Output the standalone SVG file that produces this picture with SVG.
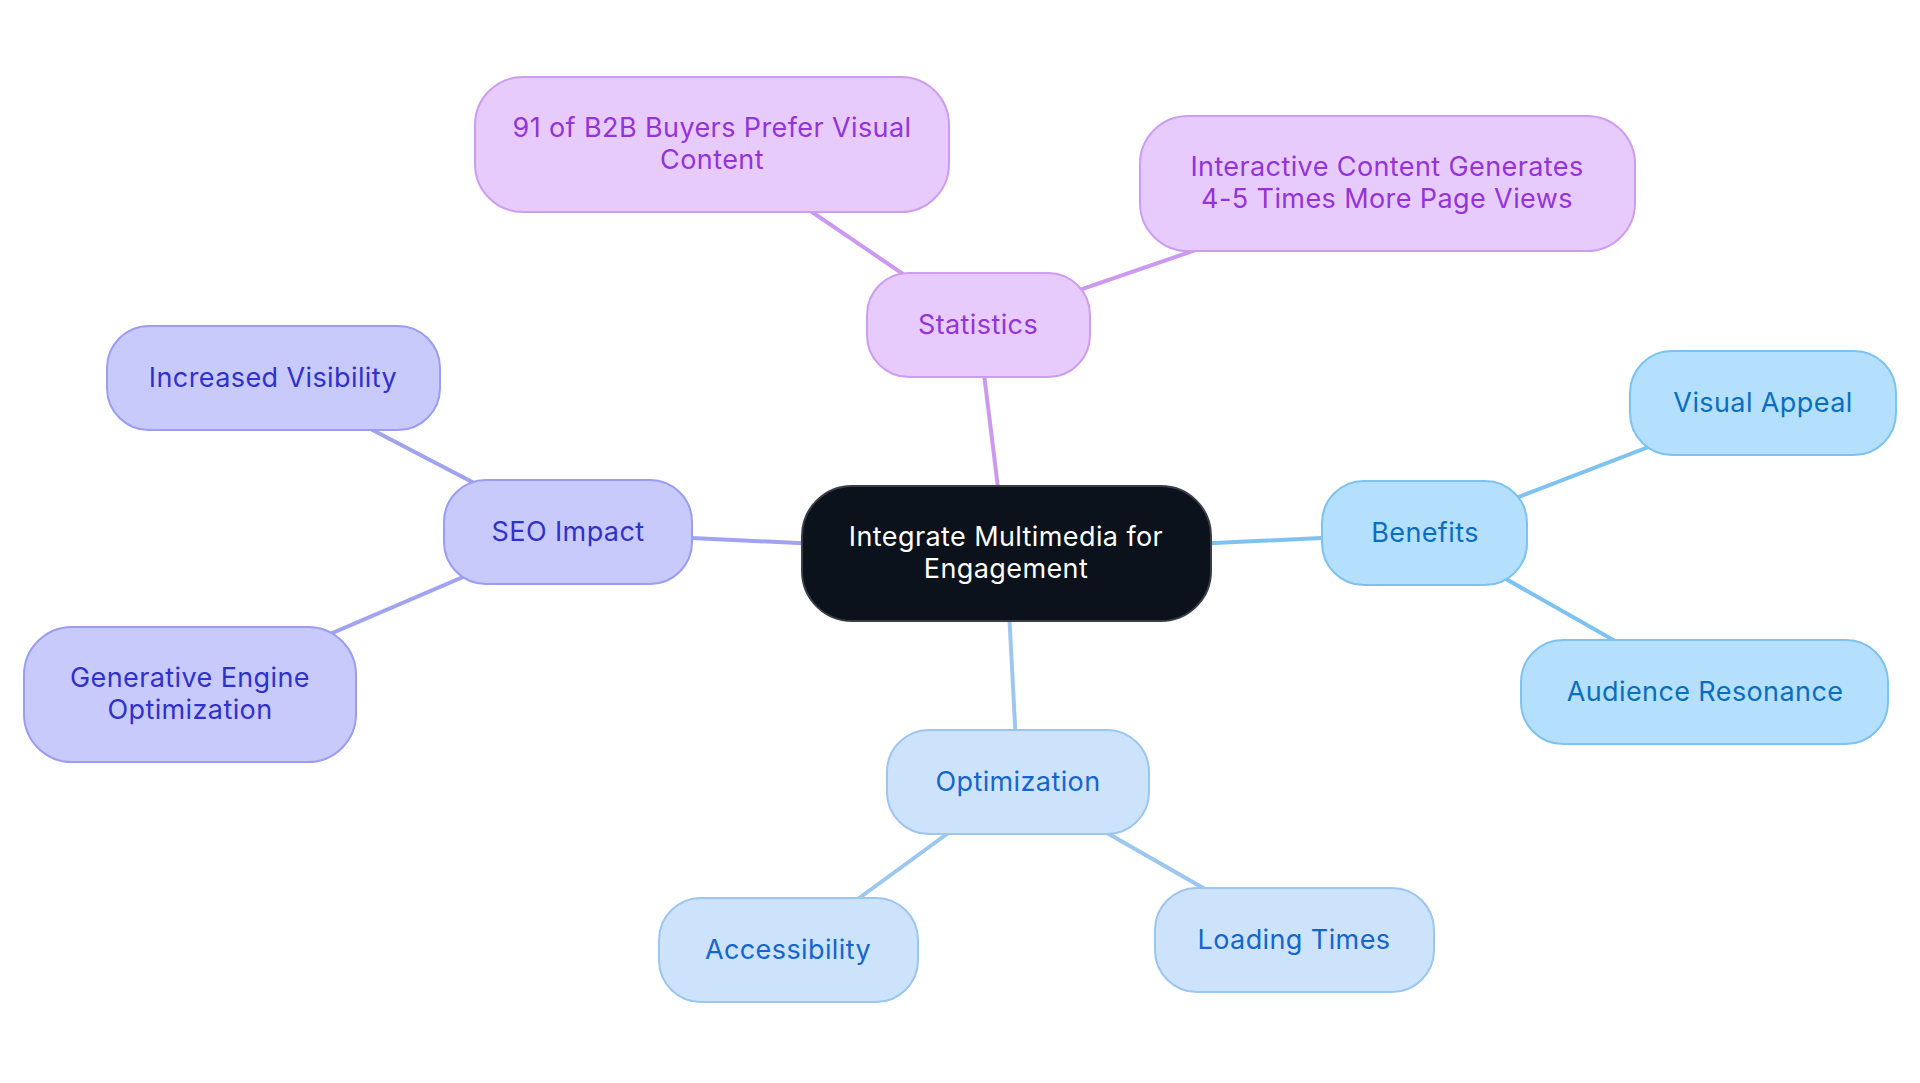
<svg xmlns="http://www.w3.org/2000/svg" width="1920" height="1083" viewBox="0 0 1920 1083">
<style>
text{font-family:Inter,"Noto Sans","Liberation Sans",sans-serif;font-size:27px;letter-spacing:0.4px;text-anchor:middle}
.c line{stroke-width:4;stroke-linecap:round}
.root rect{fill:#0c121c;stroke:#3a3f47;stroke-width:2}
.root text{fill:#ffffff}
.pu rect{fill:#e8cbfd;stroke:#cc9df0;stroke-width:2}
.pu text{fill:#9333d8}
.in rect{fill:#c8cafc;stroke:#9a9df0;stroke-width:2}
.in text{fill:#3030cc}
.bl rect{fill:#b4dffd;stroke:#7dc2f0;stroke-width:2}
.bl text{fill:#0a6ebf}
.op rect{fill:#cde3fb;stroke:#9cc5f0;stroke-width:2}
.op text{fill:#1466cc}
</style>
<rect width="1920" height="1083" fill="#ffffff"/>
<g id="connectors" class="c">
<line x1="1006" y1="553" x2="978" y2="325" stroke="#cc99f0"/>
<line x1="978" y1="325" x2="712" y2="144" stroke="#cc99f0"/>
<line x1="978" y1="325" x2="1387" y2="184" stroke="#cc99f0"/>
<line x1="1006" y1="553" x2="568" y2="532" stroke="#9fa3f0"/>
<line x1="568" y1="532" x2="273" y2="378" stroke="#9fa3f0"/>
<line x1="568" y1="532" x2="190" y2="694" stroke="#9fa3f0"/>
<line x1="1006" y1="553" x2="1425" y2="533" stroke="#7dc2f0"/>
<line x1="1425" y1="533" x2="1763" y2="403" stroke="#7dc2f0"/>
<line x1="1425" y1="533" x2="1705" y2="692" stroke="#7dc2f0"/>
<line x1="1006" y1="553" x2="1018" y2="782" stroke="#9ec7f0"/>
<line x1="1018" y1="782" x2="788" y2="950" stroke="#9ec7f0"/>
<line x1="1018" y1="782" x2="1294" y2="940" stroke="#9ec7f0"/>
</g>
<g id="root" class="root">
<rect x="802" y="486" width="409" height="135" rx="50"/>
<text x="1006" y="546">Integrate Multimedia for</text>
<text x="1006" y="578">Engagement</text>
</g>
<g id="statistics" class="pu">
<rect x="867" y="273" width="223" height="104" rx="42"/>
<text x="978" y="334">Statistics</text>
</g>
<g id="b2b" class="pu">
<rect x="475" y="77" width="474" height="135" rx="48"/>
<text x="712" y="137">91 of B2B Buyers Prefer Visual</text>
<text x="712" y="169">Content</text>
</g>
<g id="interactive" class="pu">
<rect x="1140" y="116" width="495" height="135" rx="48"/>
<text x="1387" y="176">Interactive Content Generates</text>
<text x="1387" y="208">4-5 Times More Page Views</text>
</g>
<g id="seo" class="in">
<rect x="444" y="480" width="248" height="104" rx="42"/>
<text x="568" y="541">SEO Impact</text>
</g>
<g id="visibility" class="in">
<rect x="107" y="326" width="333" height="104" rx="42"/>
<text x="273" y="387">Increased Visibility</text>
</g>
<g id="geo" class="in">
<rect x="24" y="627" width="332" height="135" rx="48"/>
<text x="190" y="687">Generative Engine</text>
<text x="190" y="719">Optimization</text>
</g>
<g id="benefits" class="bl">
<rect x="1322" y="481" width="205" height="104" rx="42"/>
<text x="1425" y="542">Benefits</text>
</g>
<g id="visual" class="bl">
<rect x="1630" y="351" width="266" height="104" rx="42"/>
<text x="1763" y="412">Visual Appeal</text>
</g>
<g id="audience" class="bl">
<rect x="1521" y="640" width="367" height="104" rx="42"/>
<text x="1705" y="701">Audience Resonance</text>
</g>
<g id="optimization" class="op">
<rect x="887" y="730" width="262" height="104" rx="42"/>
<text x="1018" y="791">Optimization</text>
</g>
<g id="accessibility" class="op">
<rect x="659" y="898" width="259" height="104" rx="42"/>
<text x="788" y="959">Accessibility</text>
</g>
<g id="loading" class="op">
<rect x="1155" y="888" width="279" height="104" rx="42"/>
<text x="1294" y="949">Loading Times</text>
</g>
</svg>
